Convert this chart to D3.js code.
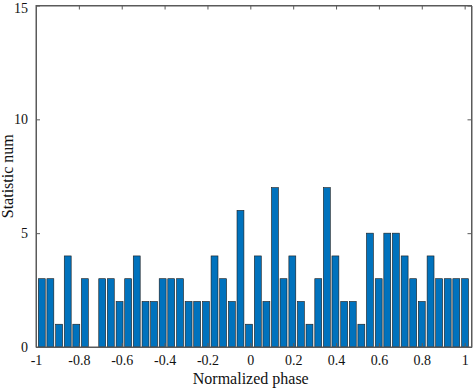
<!DOCTYPE html>
<html><head><meta charset="utf-8">
<script src="https://cdn.jsdelivr.net/npm/d3@7"></script>
<style>body{margin:0;background:#fff;}svg{display:block;}</style>
</head><body>
<svg id="c" width="474" height="388"></svg>
<script>
const binCenters = [-0.973,-0.933,-0.892,-0.852,-0.812,-0.772,-0.731,-0.691,-0.651,-0.610,
  -0.570,-0.530,-0.489,-0.449,-0.409,-0.369,-0.328,-0.288,-0.248,-0.207,
  -0.167,-0.127,-0.086,-0.046,-0.006,0.035,0.075,0.115,0.155,0.196,
  0.236,0.276,0.317,0.357,0.397,0.438,0.478,0.518,0.558,0.599,
  0.639,0.679,0.720,0.760,0.800,0.841,0.881,0.921,0.961,1.002];
const counts = [3,3,1,4,1,3,0,3,3,2, 3,4,2,2,3,3,3,2,2,2, 4,3,2,6,1,4,2,7,3,4,
  2,1,3,7,4,2,2,1,5,3, 5,5,4,3,2,4,3,3,3,3];
const xTicks = [-1,-0.8,-0.6,-0.4,-0.2,0,0.2,0.4,0.6,0.8,1];
const yTicks = [0,5,10,15];
const xLabel = "Normalized phase";
const yLabel = "Statistic num";

(function(){
const L=36, R=471.5, T=5.5, B=347;
const svg = d3.select("#c");
const x = d3.scaleLinear().domain([-1,1.032]).range([L,R]);
const y = d3.scaleLinear().domain([0,15]).range([B,T]);
const bw = (x(0.0403)-x(0))*0.8;
const font = "'Liberation Serif','Times New Roman',serif";
const axisCol = "#5a5a5a";

svg.append("g").selectAll("rect").data(counts).join("rect")
  .attr("x",(d,i)=>x(binCenters[i])-bw/2)
  .attr("y",d=>y(d))
  .attr("width",bw)
  .attr("height",d=>y(0)-y(d))
  .attr("fill","#0072BD")
  .attr("stroke","#1a1a1a")
  .attr("stroke-width",0.6);

svg.append("rect").attr("x",L).attr("y",T).attr("width",R-L).attr("height",B-T)
  .attr("fill","none").attr("stroke",axisCol).attr("stroke-width",1);

const tk = 4;
const axB = d3.axisBottom(x).tickValues(xTicks).tickSizeInner(-tk).tickSizeOuter(0).tickPadding(8)
  .tickFormat(d=>String(d));
const gb = svg.append("g").attr("transform",`translate(0,${B})`).call(axB);
const axT = d3.axisTop(x).tickValues(xTicks).tickSizeInner(-tk).tickSizeOuter(0).tickFormat("");
const gt = svg.append("g").attr("transform",`translate(0,${T})`).call(axT);
const axL = d3.axisLeft(y).tickValues(yTicks).tickSizeInner(-tk).tickSizeOuter(0).tickPadding(8);
const gl = svg.append("g").attr("transform",`translate(${L},0)`).call(axL);
const axR = d3.axisRight(y).tickValues(yTicks).tickSizeInner(-tk).tickSizeOuter(0).tickFormat("");
const gr = svg.append("g").attr("transform",`translate(${R},0)`).call(axR);
[gb,gt,gl,gr].forEach(g=>{
  g.select(".domain").attr("stroke",axisCol);
  g.selectAll(".tick line").attr("stroke",axisCol);
  g.selectAll("text").attr("fill","#111").attr("font-family",font).attr("font-size",14);
});
gl.selectAll(".tick text").filter(d=>d===15).attr("dy","0.5em");

svg.append("text").attr("x",(L+R)/2-3).attr("y",384).attr("text-anchor","middle")
  .attr("font-family",font).attr("font-size",16).attr("fill","#111").text(xLabel);
svg.append("text").attr("transform",`translate(13,${(T+B)/2}) rotate(-90)`).attr("text-anchor","middle")
  .attr("font-family",font).attr("font-size",16).attr("fill","#111").text(yLabel);
})();
</script>
</body></html>
